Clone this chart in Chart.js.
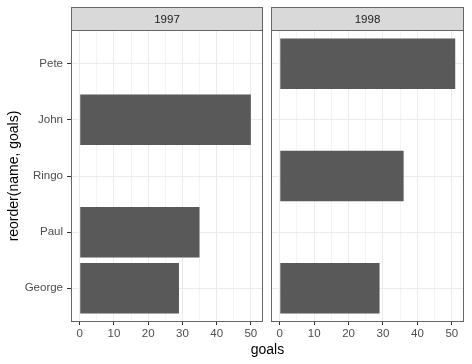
<!DOCTYPE html>
<html>
<head>
<meta charset="utf-8">
<script src="https://cdn.jsdelivr.net/npm/chart.js@4/dist/chart.umd.min.js"></script>
<style>
  html, body { margin: 0; padding: 0; background: #fff; }
  #wrap { position: relative; width: 472px; height: 364px; }
  #wrap canvas { position: absolute; left: 0; top: 0; }
  #xtitle {
    position: absolute; left: 71px; width: 393px; top: 341px;
    text-align: center; color: #000;
    font: 14px "Liberation Sans", Arial, sans-serif;
  }
</style>
</head>
<body>
<div id="wrap">
  <canvas id="p1997" width="472" height="364"></canvas>
  <canvas id="p1998" width="472" height="364"></canvas>
  <div id="xtitle">goals</div>
</div>
<script>
  "use strict";

  // data, top to bottom as in the picture
  const names = ["Pete", "John", "Ringo", "Paul", "George"];
  const goals1997 = [null, 50, null, 35, 29];
  const goals1998 = [51, null, 36, null, 29];
  const xMajorTicks = [0, 10, 20, 30, 40, 50];
  const xMinorTicks = [5, 15, 25, 35, 45];

  const FONT = "'Liberation Sans', Arial, sans-serif";

  // shared x range, ggplot style 5% expansion
  const allGoals = goals1997.concat(goals1998).filter((v) => v !== null);
  const xHi = Math.max(...allGoals);
  const xPad = xHi * 0.05;

  // panel border + facet strip
  const panelFrame = {
    id: "panelFrame",
    afterDraw(chart, args, opts) {
      const { ctx, chartArea: a } = chart;
      const h = 23;
      ctx.save();
      ctx.lineWidth = 1;
      ctx.strokeStyle = "#666666";
      ctx.strokeRect(a.left + 0.5, a.top + 0.5, a.right - a.left - 1, a.bottom - a.top - 1);
      ctx.fillStyle = "#D9D9D9";
      ctx.fillRect(a.left, a.top - h, a.right - a.left, h);
      ctx.strokeRect(a.left + 0.5, a.top - h + 0.5, a.right - a.left - 1, h);
      ctx.fillStyle = "#1A1A1A";
      ctx.font = "11.5px " + FONT;
      ctx.textAlign = "center";
      ctx.textBaseline = "middle";
      ctx.fillText(opts.label, (a.left + a.right) / 2, a.top - h / 2 + 1);
      ctx.restore();
    },
  };

  function makePanel(canvasId, label, values, showY) {
    const points = [];
    values.forEach((v, i) => {
      if (v !== null) {
        points.push({ x: v, y: i });
      }
    });

    return new Chart(document.getElementById(canvasId), {
      type: "bar",
      data: {
        datasets: [
          {
            data: points,
            backgroundColor: "#595959",
            borderWidth: 0,
            barPercentage: 0.9,
            categoryPercentage: 1,
          },
        ],
      },
      plugins: [panelFrame],
      options: {
        indexAxis: "y",
        responsive: false,
        devicePixelRatio: 1,
        animation: false,
        layout: {
          padding: showY
            ? { top: 30, right: 209, left: 0, bottom: 0 }
            : { top: 30, right: 8, left: 271, bottom: 0 },
        },
        plugins: {
          legend: { display: false },
          tooltip: { enabled: false },
          panelFrame: { label },
        },
        scales: {
          x: {
            type: "linear",
            min: -xPad,
            max: xHi + xPad,
            afterBuildTicks(scale) {
              scale.ticks = xMajorTicks
                .concat(xMinorTicks)
                .sort((a, b) => a - b)
                .map((v) => ({ value: v }));
            },
            afterFit(scale) {
              scale.height = 42;
            },
            border: { display: false },
            grid: {
              color: (c) => (c.tick && c.tick.value % 10 === 0 ? "#EBEBEB" : "#F4F4F4"),
              lineWidth: 1,
              tickColor: (c) => (c.tick && c.tick.value % 10 === 0 ? "#333333" : "rgba(0,0,0,0)"),
              tickLength: 3,
            },
            ticks: {
              padding: 2,
              color: "#4D4D4D",
              font: { family: FONT, size: 11.5 },
              maxRotation: 0,
              autoSkip: false,
              callback: (v) => (v % 10 === 0 ? v : ""),
            },
          },
          y: {
            type: "linear",
            reverse: true,
            offset: false,
            min: -0.6,
            max: names.length - 0.4,
            afterBuildTicks(scale) {
              scale.ticks = names.map((n, i) => ({ value: i }));
            },
            afterFit(scale) {
              scale.width = showY ? 71 : 0;
            },
            border: { display: false },
            grid: {
              offset: false,
              color: "#EBEBEB",
              lineWidth: 1,
              drawTicks: showY,
              tickColor: "#333333",
              tickLength: 4,
            },
            ticks: {
              display: showY,
              padding: 4,
              color: "#4D4D4D",
              font: { family: FONT, size: 11.5 },
              autoSkip: false,
              callback: (v) => names[v],
            },
            title: {
              display: showY,
              text: "reorder(name, goals)",
              color: "#000",
              font: { family: FONT, size: 14 },
              padding: { top: 6, bottom: 0 },
            },
          },
        },
      },
    });
  }

  makePanel("p1997", "1997", goals1997, true);
  makePanel("p1998", "1998", goals1998, false);
</script>
</body>
</html>
